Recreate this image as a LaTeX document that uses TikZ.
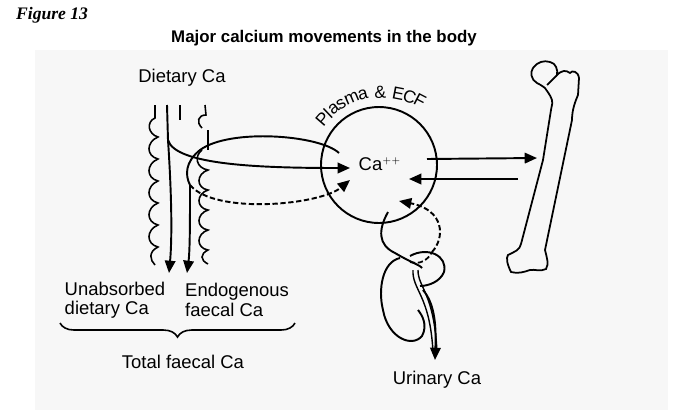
\documentclass[tikz,border=0pt]{standalone}
\usepackage{fontspec}
\setmainfont{Liberation Sans}
\newfontfamily\serifx{Liberation Serif}
\usetikzlibrary{arrows.meta,decorations.pathreplacing}
\begin{document}
\begin{tikzpicture}[x=0.02cm,y=-0.02cm,
  ln/.style={line width=1.1pt},
  arr/.style={ln,-{Triangle[length=7pt,width=6pt]}},
  dsh/.style={arr,dash pattern=on 3pt off 1.5pt},
  lbl/.style={font=\fontsize{10.5}{11}\selectfont,align=left,inner sep=0pt},
  arcl/.style={font=\fontsize{10}{11}\selectfont,inner sep=0pt}]
\useasboundingbox (0,0) rectangle (680,413);
\fill[gray!6] (35,50) rectangle (668,410);
\node[font=\serifx\bfseries\itshape\fontsize{10}{11}\selectfont,anchor=west] (fig) at (10,15) {Figure 13};
\node[font=\bfseries\fontsize{9.6}{12}\selectfont] (title) at (324,38) {Major calcium movements in the body};
\node[lbl] (diet) at (182,78) {Dietary Ca};
% circle
\node[draw,circle,ln,inner sep=0pt,minimum size=2.32cm] (pl) at (379,165) {};
\node[lbl] (ca) at (380,164) {Ca$^{\scriptscriptstyle ++}$};
\foreach \ch/\ang [count=\i] in {P/139,l/133.5,a/128,s/121.5,m/113,a/104.5,\&/92,E/79,C/70.5,F/62.5} {
  \node[arcl,rotate=\ang-90] (t\i) at ({383+80*cos(\ang)},{172-80*sin(\ang)}) {\ch};
}
% intestine walls
\draw[line width=0.9pt] (155,105) -- (155,118) .. controls (146,122) and (148,134) .. (158,137)
 .. controls (146,142) and (146,156) .. (158,159) .. controls (146,164) and (146,178) .. (158,181)
 .. controls (146,186) and (146,200) .. (158,203) .. controls (146,208) and (146,222) .. (158,225)
 .. controls (146,230) and (146,244) .. (158,247) .. controls (148,252) and (150,260) .. (155,265);
\draw[line width=0.9pt] (205,105) -- (206,115) .. controls (198,115) and (196,122) .. (202,128);
\draw[line width=0.9pt] (208,130) -- (208,150);
\draw[line width=0.9pt] (202,150) .. controls (194,156) and (196,168) .. (208,170)
 .. controls (196,174) and (196,188) .. (208,190) .. controls (196,194) and (196,208) .. (208,210)
 .. controls (196,214) and (196,228) .. (208,230) .. controls (196,234) and (196,248) .. (208,250)
 .. controls (200,254) and (200,260) .. (208,264);
\draw[line width=0.9pt] (180,105) -- (180,120);
% flows
\draw[arr] (167,105) -- (168,140) .. controls (175,165) and (260,168) .. (350,168);
\draw[arr] (168,140) .. controls (172,200) and (172,240) .. (169,273);
\draw[ln] (339,153) .. controls (320,135) and (230,128) .. (200,150) .. controls (185,162) and (185,175) .. (190,185);
\draw[arr] (190,185) .. controls (190,220) and (190,250) .. (187,273);
\draw[dsh] (190,185) .. controls (215,215) and (320,205) .. (350,180);
% bone arrows
\draw[arr] (427,159) -- (537,158);
\draw[arr] (518,179) -- (409,179);
% bone
\draw[line width=1pt] (550,62) .. controls (556,63) and (558,70) .. (557,75) .. controls (562,70) and (566,70) .. (570,73)
 .. controls (572,70) and (578,71) .. (579,78) -- (578,95) .. controls (575,102) and (572,110) .. (572,120)
 -- (545,250) .. controls (547,258) and (549,264) .. (546,269) .. controls (540,272) and (535,269) .. (530,270)
 .. controls (524,272) and (518,274) .. (511,272) .. controls (507,264) and (506,258) .. (508,255)
 .. controls (514,252) and (520,250) .. (521,244) -- (543,160) -- (551,110) .. controls (552,104) and (553,102) .. (552,100)
 .. controls (550,94) and (546,90) .. (545,88) .. controls (541,85) and (539,84) .. (537,83)
 .. controls (531,80) and (530,72) .. (533,68) .. controls (537,62) and (544,60) .. (550,62) -- cycle;
\draw[line width=1pt] (547,85) -- (557,75);
% kidney
\draw[ln] (388,212) .. controls (378,230) and (378,245) .. (395,253) .. controls (410,262) and (420,265) .. (422,268);
\draw[ln] (400,258) .. controls (382,262) and (378,290) .. (383,310) .. controls (388,338) and (412,348) .. (422,336)
 .. controls (428,325) and (422,315) .. (418,310);
\draw[ln] (410,256) .. controls (428,246) and (448,256) .. (444,272) .. controls (440,282) and (428,286) .. (420,286);
\draw[line width=0.8pt] (413,270) .. controls (412,290) and (430,295) .. (433,352);
\draw[line width=0.8pt] (418,270) .. controls (418,288) and (434,292) .. (437,352);
\draw[arr] (423,290) .. controls (436,305) and (436,330) .. (435,360);
\draw[dsh] (432,252) .. controls (445,238) and (445,210) .. (399,201);
\draw[line width=1pt,dash pattern=on 3pt off 1.5pt] (410,262) .. controls (420,265) and (428,260) .. (432,252);
% labels
\node[lbl] (un) at (115,300) {Unabsorbed\\dietary Ca};
\node[lbl] (en) at (237,300) {Endogenous\\faecal Ca};
\draw[line width=0.9pt,decorate,decoration={brace,amplitude=8pt}] (295,323) -- (60,323);
\node[lbl] (tot) at (183,362) {Total faecal Ca};
\node[lbl] (ur) at (437,380) {Urinary Ca};
\end{tikzpicture}
\end{document}
